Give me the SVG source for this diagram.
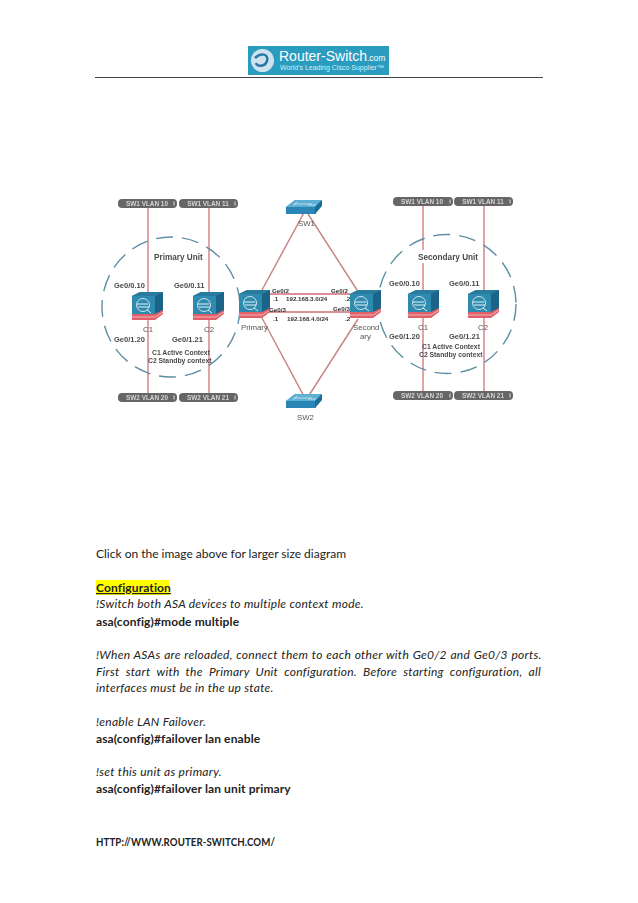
<svg xmlns="http://www.w3.org/2000/svg" width="638" height="903" viewBox="0 0 638 903">
<style>
.t{font-family:Lato,"Liberation Sans",sans-serif;font-size:12px;fill:#222}
.b{font-weight:700;letter-spacing:.12px}.i{font-style:italic;letter-spacing:.27px}
.d{font-family:"Liberation Sans",sans-serif;font-size:7.5px;font-weight:700;fill:#4a4a4a}
.h{font-size:8.200px}.m{font-size:6.800px}.n{font-size:6.200px;fill:#333}
.s{font-family:"Liberation Sans",sans-serif;font-size:7.800px;fill:#555}
.p{font-family:"Liberation Sans",sans-serif;font-size:6.400px;font-weight:700;fill:#d4d4d4;text-anchor:middle}
.l{stroke:#dfa3a8;stroke-width:2;fill:none}
.g{stroke:#c98688;stroke-width:1.500;fill:none}
.r{stroke:#cf6f75;stroke-width:1.500;fill:none}
.c{fill:none;stroke:#5d8ea3;stroke-width:1.400;stroke-dasharray:17 9}
.pill{fill:#666}
.k{stroke:#ddd;stroke-width:1}
</style>
<defs>
<filter id="soft" x="-2%" y="-2%" width="104%" height="104%"><feGaussianBlur stdDeviation="0.35"/></filter>
<g id="fw">
<path d="M0 4L8 0H31V20L23 25H0Z" fill="#1f6f97"/>
<path d="M0 4H23V22H0Z" fill="#2f8aaf"/>
<path d="M23 4L31 0V18L23 22Z" fill="#1a6488"/>
<path d="M0 4L8 0H31L23 4Z" fill="#2a7b9f"/>
<circle cx="11" cy="13" r="6.500" fill="none" stroke="#cfe6ee" stroke-width="1"/>
<path d="M5 12H16M6 15H17M15 18L19 21" stroke="#e3f1f5" stroke-width="1" fill="none"/>
<path d="M0 22H23L31 18V22L23 28H0Z" fill="#e0606a"/>
<path d="M0 25H23M23 25L31 20" stroke="#f5b5b8" stroke-width="1" fill="none"/>
</g>
<g id="sw">
<path d="M0 7L9 0H36L30 8V14H0Z" fill="#2b86b5"/>
<path d="M0 7L9 0H36L29 7Z" fill="#5bb0d3"/>
<path d="M29 7L36 0V6L29 14Z" fill="#1b6c95"/>
<path d="M8 4H26M11 2L7 6M22 5H30" stroke="#d6eaf2" stroke-width=".8" fill="none"/>
</g>
</defs>

<g id="header">
<rect x="248" y="46" width="141" height="29" fill="#2a9cc0"/>
<circle cx="262.500" cy="60.500" r="11.500" fill="#cfe3ef"/>
<path d="M255 58C261 52 269 54 267 61C265 67 257 67 256 63" fill="none" stroke="#2a78a8" stroke-width="2.500"/>
<text x="279" y="61" font-family="Liberation Sans,sans-serif" font-size="14" fill="#fff">Router-Switch<tspan font-size="8.500">.com</tspan></text>
<text x="280" y="70" font-family="Liberation Sans,sans-serif" font-size="7" fill="#d5eef5">World's Leading Cisco Supplier™</text>
<path d="M95 77.500H543" stroke="#444" stroke-width="1"/>
</g>

<g filter="url(#soft)">
<g id="connectors">
<path class="l" d="M148 207V394M209 207V394M423 205V392M484 205V392"/>
<path class="g" d="M262 290L305.500 210L357 290M262 318L306 400L358 319"/>
<path class="r" d="M269 294H350M269 312H350"/>
</g>

<ellipse id="primary-unit" class="c" cx="171" cy="307" rx="69" ry="70"/>
<ellipse id="secondary-unit" class="c" cx="447" cy="304" rx="69" ry="69.500"/>

<g id="vlans">
<rect class="pill" x="118" y="199" width="59" height="9" rx="4"/><path class="k" d="M174 201.500V205.500"/><text class="p" x="147" y="206">SW1 VLAN 10</text>
<rect class="pill" x="179" y="199" width="59" height="9" rx="4"/><path class="k" d="M235 201.500V205.500"/><text class="p" x="208" y="206">SW1 VLAN 11</text>
<rect class="pill" x="118" y="393" width="59" height="9" rx="4"/><path class="k" d="M174 395.500V399.500"/><text class="p" x="147" y="400">SW2 VLAN 20</text>
<rect class="pill" x="179" y="393" width="59" height="9" rx="4"/><path class="k" d="M235 395.500V399.500"/><text class="p" x="208" y="400">SW2 VLAN 21</text>
<rect class="pill" x="393" y="197" width="60" height="9" rx="4"/><path class="k" d="M450 199.500V203.500"/><text class="p" x="422" y="204">SW1 VLAN 10</text>
<rect class="pill" x="454" y="197" width="59" height="9" rx="4"/><path class="k" d="M510 199.500V203.500"/><text class="p" x="483" y="204">SW1 VLAN 11</text>
<rect class="pill" x="393" y="391" width="60" height="9" rx="4"/><path class="k" d="M450 393.500V397.500"/><text class="p" x="422" y="398">SW2 VLAN 20</text>
<rect class="pill" x="454" y="391" width="59" height="9" rx="4"/><path class="k" d="M510 393.500V397.500"/><text class="p" x="483" y="398">SW2 VLAN 21</text>
</g>

<g id="sw1"><use href="#sw" x="286" y="200"/><text class="s" x="298" y="226">SW1</text></g>
<g id="sw2"><use href="#sw" x="286" y="394"/><text class="s" x="297" y="420">SW2</text></g>
<g id="primary"><use href="#fw" x="239" y="290"/><text class="s" x="241" y="330">Primary</text></g>
<g id="secondary"><use href="#fw" x="350" y="290"/><text class="s" x="353" y="330">Second</text><text class="s" x="360" y="339">ary</text></g>
<g id="c1-primary"><use href="#fw" x="132" y="292"/><text class="s" x="143" y="332">C1</text></g>
<g id="c2-primary"><use href="#fw" x="193" y="292"/><text class="s" x="204" y="332">C2</text></g>
<g id="c1-secondary"><use href="#fw" x="408" y="290"/><text class="s" x="418" y="330">C1</text></g>
<g id="c2-secondary"><use href="#fw" x="468" y="290"/><text class="s" x="478" y="330">C2</text></g>

<g id="diagram-labels">
<text class="d h" x="154" y="260">Primary Unit</text>
<rect x="416" y="250" width="62" height="13" fill="#fff"/>
<text class="d h" x="418" y="259.500">Secondary  Unit</text>
<text class="d" x="114" y="288">Ge0/0.10</text><text class="d" x="174" y="288">Ge0/0.11</text>
<text class="d" x="114" y="342">Ge0/1.20</text><text class="d" x="172" y="342">Ge0/1.21</text>
<text class="d" x="389" y="286">Ge0/0.10</text><text class="d" x="449" y="286">Ge0/0.11</text>
<text class="d" x="389" y="339">Ge0/1.20</text><text class="d" x="449" y="339">Ge0/1.21</text>
<text class="d m" x="152" y="354.500">C1 Active Context</text>
<text class="d m" x="148" y="362.500">C2 Standby context</text>
<text class="d m" x="422" y="349">C1 Active Context</text>
<text class="d m" x="419" y="357">C2 Standby context</text>
<text class="d n" x="272" y="292.500">Ge0/2</text><text class="d n" x="331" y="292.500">Ge0/2</text>
<text class="d n" x="269" y="312">Ge0/3</text><text class="d n" x="333" y="310.500">Ge0/3</text>
<text class="d n" x="286" y="301">192.168.3.0/24</text>
<text class="d n" x="287" y="321">192.168.4.0/24</text>
<text class="d n" x="273" y="301">.1</text><text class="d n" x="345" y="301">.2</text>
<text class="d n" x="273" y="321">.1</text><text class="d n" x="345" y="321">.2</text>
</g>
</g>

<g id="page-text">
<text class="t" x="96" y="558">Click on the image above for larger size diagram</text>
<rect x="96" y="580" width="73" height="15" fill="#ff0"/>
<text class="t b" x="96" y="592" text-decoration="underline">Configuration</text>
<text class="t i" x="96" y="608">!Switch both ASA devices to multiple context mode.</text>
<text class="t b" x="96" y="626">asa(config)#mode multiple</text>
<text class="t i" x="96" y="659" word-spacing=".55">!When ASAs are reloaded, connect them to each other with Ge0/2 and Ge0/3 ports.</text>
<text class="t i" x="96" y="676" word-spacing="3.050">First start with the Primary Unit configuration. Before starting configuration, all</text>
<text class="t i" x="96" y="692">interfaces must be in the up state.</text>
<text class="t i" x="96" y="726">!enable LAN Failover.</text>
<text class="t b" x="96" y="743">asa(config)#failover lan enable</text>
<text class="t i" x="96" y="776">!set this unit as primary.</text>
<text class="t b" x="96" y="793">asa(config)#failover lan unit primary</text>
<text class="t b" x="96" y="846" textLength="179" lengthAdjust="spacingAndGlyphs">HTTP://WWW.ROUTER-SWITCH.COM/</text>
</g>
</svg>
